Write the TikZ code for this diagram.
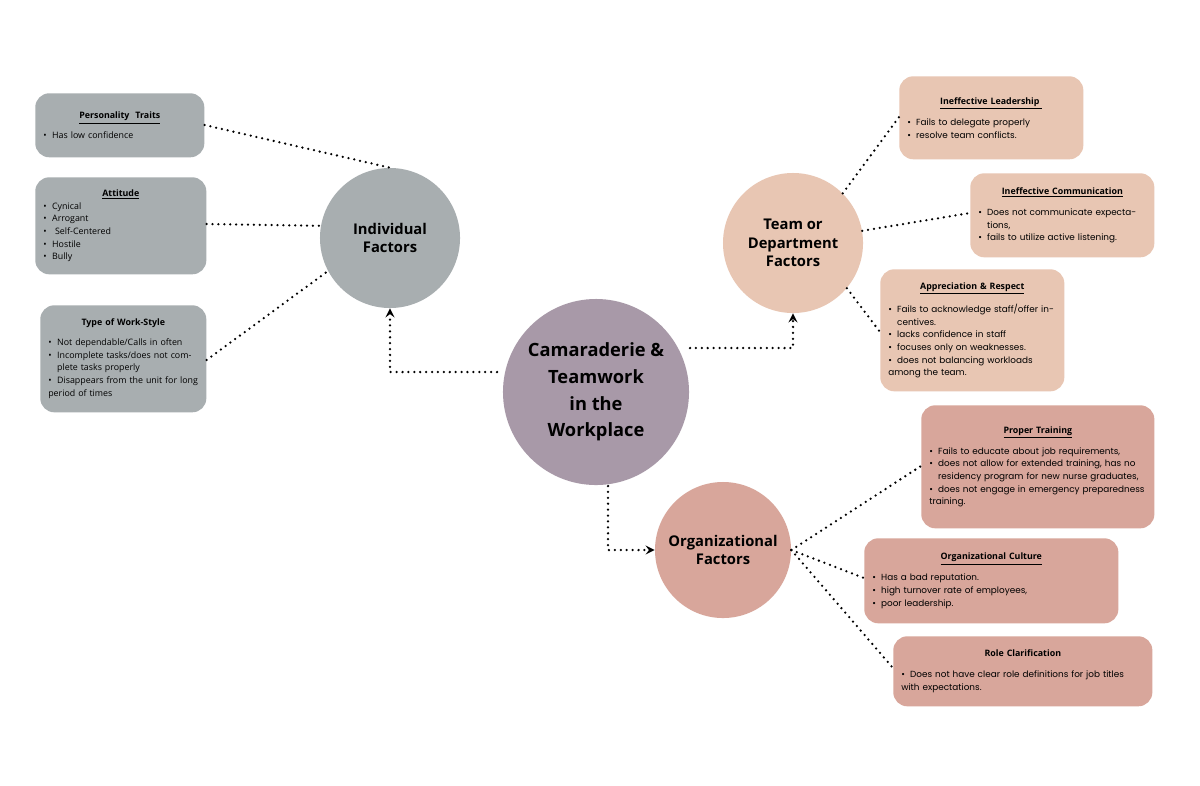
\documentclass[tikz,border=0pt]{standalone}
\usepackage{fontspec}
\setmainfont{Open Sans}
\newfontfamily\popp{Poppins}
\usetikzlibrary{positioning}
\definecolor{grayFill}{HTML}{A8AEB0}
\definecolor{peachFill}{HTML}{E8C6B3}
\definecolor{roseFill}{HTML}{D8A69B}
\definecolor{plumFill}{HTML}{A899A8}
\newcommand\bitem[1]{\par\hangindent=1em\hangafter=1\noindent\makebox[1em][l]{\textbullet}#1}
\newcommand\boxtitle[1]{{\centering\textbf{\underline{#1}}\par}}
\tikzstyle{factorCircle}=[circle,inner sep=0pt,align=center,font=\fontsize{10.5}{13}\selectfont\bfseries]
\tikzstyle{factorBox}=[rounded corners=10pt,anchor=north west,inner xsep=0.2cm,align=left,font=\fontsize{6.3}{9}\selectfont]
\tikzstyle{dotLink}=[line width=1.8pt,line cap=round,dash pattern=on 0pt off 4.2pt]
\tikzstyle{dotArrow}=[dotLink,-stealth]

\begin{document}
\begin{tikzpicture}[x=0.025cm,y=-0.025cm]
    \useasboundingbox[fill=white] (0,0) rectangle (1200,785);

    \node[factorCircle, fill=plumFill, minimum size=4.65cm, font=\fontsize{13}{19}\selectfont\bfseries] (main) at (596,392) {Camaraderie \&\\Teamwork\\in the\\Workplace};
    \node[factorCircle, fill=grayFill, minimum size=3.5cm] (indiv) at (390,238) {Individual\\Factors};
    \node[factorCircle, fill=peachFill, minimum size=3.5cm] (team) at (793,243) {Team or\\Department\\Factors};
    \node[factorCircle, fill=roseFill, minimum size=3.4cm] (org) at (723,550) {Organizational\\Factors};

    % left boxes
    \node[factorBox, fill=grayFill, minimum width=4.225cm, minimum height=1.6cm, text width=3.825cm] (traits) at (35,93)
        {\boxtitle{Personality\ \ Traits}\vspace{5pt}\bitem{Has low confidence}};
    \node[factorBox, fill=grayFill, minimum width=4.275cm, minimum height=2.425cm, text width=3.875cm] (attitude) at (35,177)
        {\boxtitle{Attitude}\bitem{Cynical}\bitem{Arrogant}\bitem{\ Self-Centered}\bitem{Hostile}\bitem{Bully}};
    \node[factorBox, fill=grayFill, minimum width=4.15cm, minimum height=2.675cm, text width=3.75cm] (style) at (40,305)
        {{\centering\textbf{Type of Work-Style}\par}\vspace{5pt}\bitem{Not dependable/Calls in often}\bitem{Incomplete tasks/does not complete tasks properly}\bitem{Disappears from the unit for long period of times}};

    % team boxes
    \node[factorBox, fill=peachFill, minimum width=4.6cm, minimum height=2.075cm, text width=4.2cm] (lead) at (899,76)
        {\boxtitle{Ineffective Leadership\ }\vspace{6pt}\popp\bitem{Fails to delegate properly}\bitem{resolve team conflicts.}};
    \node[factorBox, fill=peachFill, minimum width=4.6cm, minimum height=2.1cm, text width=4.2cm] (comm) at (970,173)
        {\boxtitle{Ineffective Communication}\vspace{6pt}\popp\bitem{Does not communicate expectations,}\bitem{fails to utilize active listening.}};
    \node[factorBox, fill=peachFill, minimum width=4.6cm, minimum height=3.05cm, text width=4.2cm] (respect) at (880,269)
        {\boxtitle{Appreciation \& Respect}\vspace{6pt}\popp\bitem{Fails to acknowledge staff/offer incentives.}\bitem{lacks confidence in staff}\bitem{focuses only on weaknesses.}\bitem{does not balancing workloads among the team.}};

    % organizational boxes
    \node[factorBox, fill=roseFill, minimum width=5.825cm, minimum height=3.075cm, text width=5.425cm] (training) at (921,405)
        {\boxtitle{Proper Training}\vspace{6pt}\popp\bitem{Fails to educate about job requirements,}\bitem{does not allow for extended training, has no residency program for new nurse graduates,}\bitem{does not engage in emergency preparedness training.}};
    \node[factorBox, fill=roseFill, minimum width=6.35cm, minimum height=2.125cm, text width=5.95cm] (culture) at (864,538)
        {\boxtitle{Organizational Culture}\vspace{6pt}\popp\bitem{Has a bad reputation.}\bitem{high turnover rate of employees,}\bitem{poor leadership.}};
    \node[factorBox, fill=roseFill, minimum width=6.475cm, minimum height=1.75cm, text width=6.075cm] (role) at (893,636)
        {{\centering\textbf{Role Clarification}\par}\vspace{6pt}\popp\bitem{Does not have clear role definitions for job titles with expectations.}};

    % connectors
    \coordinate (mainW) at (497,372);
    \coordinate (mainE) at (690,348);
    \coordinate (mainS) at (608,486);
    \draw[dotArrow] (mainW) -| (indiv.south);
    \draw[dotArrow] (mainE) -| (team.south);
    \draw[dotArrow] (mainS) |- (org.west);

    \draw[dotLink] (traits.east |- 0,125) -- (indiv.north);
    \draw[dotLink] (attitude.east |- 0,224) -- (indiv.170);
    \draw[dotLink] (style.east |- 0,360) -- (indiv.208);

    \draw[dotLink] (team.45) -- (lead.west |- 0,117);
    \draw[dotLink] (team.10) -- (comm.west |- 0,213);
    \draw[dotLink] (team.-40) -- (respect.west |- 0,332);

    \draw[dotLink] (org.east) -- (training.west |- 0,466);
    \draw[dotLink] (org.east) -- (culture.west |- 0,578);
    \draw[dotLink] (org.east) -- (role.west |- 0,668);
\end{tikzpicture}
\end{document}
